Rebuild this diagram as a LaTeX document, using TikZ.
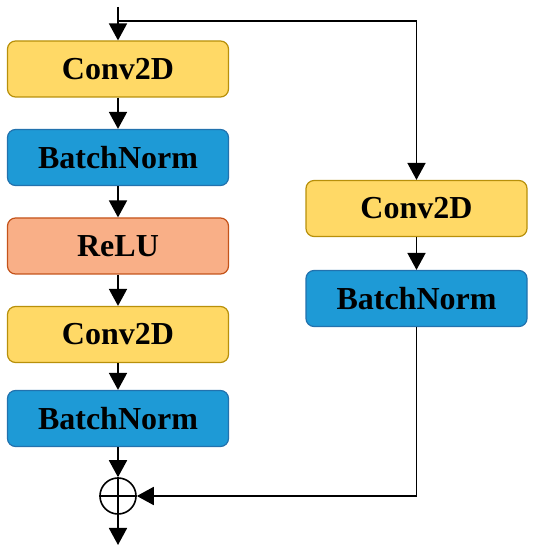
\documentclass[tikz,border=0pt]{standalone}
\usepackage{fontspec}
\setmainfont{Liberation Serif}
\usetikzlibrary{arrows.meta}
\definecolor{convfill}{HTML}{FFD966}
\definecolor{convdraw}{HTML}{B8900A}
\definecolor{normfill}{HTML}{1E9AD6}
\definecolor{normdraw}{HTML}{2272AE}
\definecolor{relufill}{HTML}{F9AF87}
\definecolor{reludraw}{HTML}{C4531A}
\tikzstyle{layer} = [
  draw,
  rectangle,
  rounded corners=8pt,
  line width=1.2pt,
  minimum width=221pt,
  minimum height=56pt,
  font=\fontsize{32}{36}\selectfont\bfseries,
]
\tikzstyle{conv} = [
  layer,
  fill=convfill,
  draw=convdraw,
]
\tikzstyle{norm} = [
  layer,
  fill=normfill,
  draw=normdraw,
]
\tikzstyle{relu} = [
  layer,
  fill=relufill,
  draw=reludraw,
]
\tikzstyle{flow} = [
  line width=1.8pt,
  -{Triangle[width=18pt,length=17pt]},
]

\begin{document}
\begin{tikzpicture}[
    x=1pt,
    y=1pt,
    node distance=88.5pt,
  ]
  \useasboundingbox (0,0) rectangle (535,550);
  % main branch
  \node[conv]
  (conva) at (118,481) {Conv2D};
  \node[
    norm,
    below of=conva,
  ](norma){BatchNorm};
  \node[
    relu,
    below of=norma,
  ](relu){ReLU};
  \node[
    conv,
    below of=relu,
  ](convb){Conv2D};
  \node[
    norm,
    below of=convb,
    node distance=84pt,
  ](normb){BatchNorm};
  % shortcut branch
  \node[conv]
  (convr) at (416.5,341.5) {Conv2D};
  \node[
    norm,
    below of=convr,
    node distance=90pt,
  ](normr){BatchNorm};
  % sum
  \node[
    draw,
    circle,
    line width=1.6pt,
    minimum size=36pt,
  ](sum) at (118,54){};
  \draw[line width=1.6pt] (sum.north) -- (sum.south)
    (sum.west) -- (sum.east);
  \coordinate (in) at (118,543);
  \coordinate (split) at (118,529);
  \coordinate (out) at (118,5);
  \draw [flow] (in) -- (conva);
  \draw [flow] (conva) -- (norma);
  \draw [flow] (norma) -- (relu);
  \draw [flow] (relu) -- (convb);
  \draw [flow] (convb) -- (normb);
  \draw [flow] (normb) -- (sum);
  \draw [flow] (sum) -- (out);
  \draw [flow] (split) -| (convr);
  \draw [flow] (convr) -- (normr);
  \draw [flow] (normr) |- (sum);
\end{tikzpicture}
\end{document}
